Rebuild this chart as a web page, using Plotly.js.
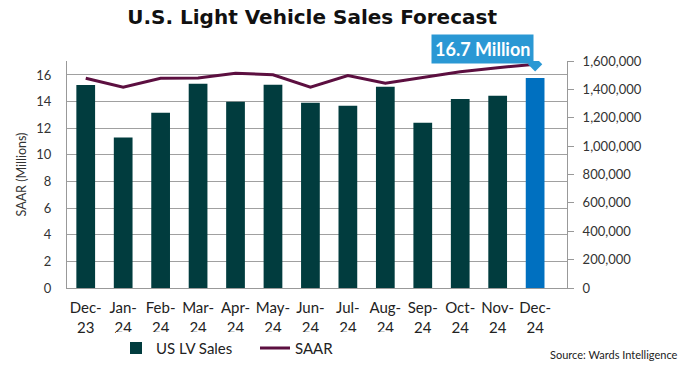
<!DOCTYPE html>
<html><head><meta charset="utf-8">
<script src="https://cdn.plot.ly/plotly-3.0.1.min.js"></script>
<style>body{margin:0;background:#fff}#c{width:686px;height:368px}</style>
</head><body><div id="c"></div>
<script>
const months = ["Dec-<br>23","Jan-<br>24","Feb-<br>24","Mar-<br>24","Apr-<br>24","May-<br>24","Jun-<br>24","Jul-<br>24","Aug-<br>24","Sep-<br>24","Oct-<br>24","Nov-<br>24","Dec-<br>24"];
const lvSales = [1431000,1060000,1235000,1439000,1312000,1432000,1305000,1284000,1418000,1165000,1333000,1355000,1481000];
const saar = [15.76,15.08,15.76,15.78,16.13,16.02,15.08,15.95,15.38,15.83,16.25,16.55,16.8];
const barColors = ["#013c3e","#013c3e","#013c3e","#013c3e","#013c3e","#013c3e","#013c3e","#013c3e","#013c3e","#013c3e","#013c3e","#013c3e","#0070c0"];
const forecastLabel = "16.7 Million";
const lastIdx = months.length - 1;

const font = "Lato, 'DejaVu Sans', sans-serif";
const traces = [
  {type:"bar", name:"US LV Sales", x:months, y:lvSales, yaxis:"y", marker:{color:barColors}, width:0.5, hoverinfo:"skip"},
  {type:"scatter", mode:"lines", name:"SAAR", x:months, y:saar, yaxis:"y2", line:{color:"#5c0f40", width:3}},
  {type:"scatter", mode:"markers", x:[months[lastIdx]], y:[saar[lastIdx]], yaxis:"y2", showlegend:false,
   marker:{symbol:"diamond", size:11, color:"#2a98d4"}}
];
const layout = {
  width:686, height:368,
  margin:{l:67, r:119, t:61, b:80, autoexpand:false},
  paper_bgcolor:"#fff", plot_bgcolor:"#fff",
  font:{family:font, size:13, color:"#333"},
  showlegend:true,
  title:{text:"<b>U.S. Light Vehicle Sales Forecast</b>", x:0.455, xanchor:"center", y:0.955, yanchor:"middle",
    font:{family:"'DejaVu Sans', sans-serif", size:20, color:"#111"}},
  bargap:0.5,
  xaxis:{type:"category", showline:true, linecolor:"#999", linewidth:1, ticks:"", automargin:false,
    ticklabelstandoff:6, tickfont:{size:15, color:"#222"}, fixedrange:true},
  yaxis:{side:"right", range:[0,1600000], dtick:200000, tickformat:",", showgrid:false, zeroline:false, automargin:false,
    showline:true, linecolor:"#999", ticks:"outside", ticklen:6, tickcolor:"#999", ticklabelstandoff:6,
    tickfont:{size:13, color:"#333"}},
  yaxis2:{overlaying:"y", side:"left", range:[0,17.05], dtick:2, showgrid:true, gridcolor:"#a0a0a0", gridwidth:1,
    zeroline:false, showline:true, linecolor:"#999", ticks:"", automargin:false, ticklabelstandoff:12,
    tickfont:{size:13, color:"#333"},
    title:{text:"SAAR (Millions)", font:{size:12.5, color:"#333"}, standoff:6}},
  legend:{orientation:"h", x:0.098, xanchor:"left", y:-0.265, yanchor:"middle", font:{size:15, color:"#222"},
    entrywidth:94, entrywidthmode:"pixels", tracegroupgap:0},
  annotations:[
    {text:"<b>"+forecastLabel+"</b>", xref:"paper", yref:"paper", x:0.934, xanchor:"right", y:1.053, yanchor:"middle",
     showarrow:false, bgcolor:"#2a98d4", font:{size:18, color:"#fff", family:font}, borderpad:3},
    {text:"Source: Wards Intelligence", xref:"paper", yref:"paper", x:1.225, xanchor:"right", y:-0.295, yanchor:"middle",
     showarrow:false, font:{size:11, color:"#222"}}
  ]
};
Plotly.newPlot("c", traces, layout, {displayModeBar:false, staticPlot:true});
</script></body></html>
